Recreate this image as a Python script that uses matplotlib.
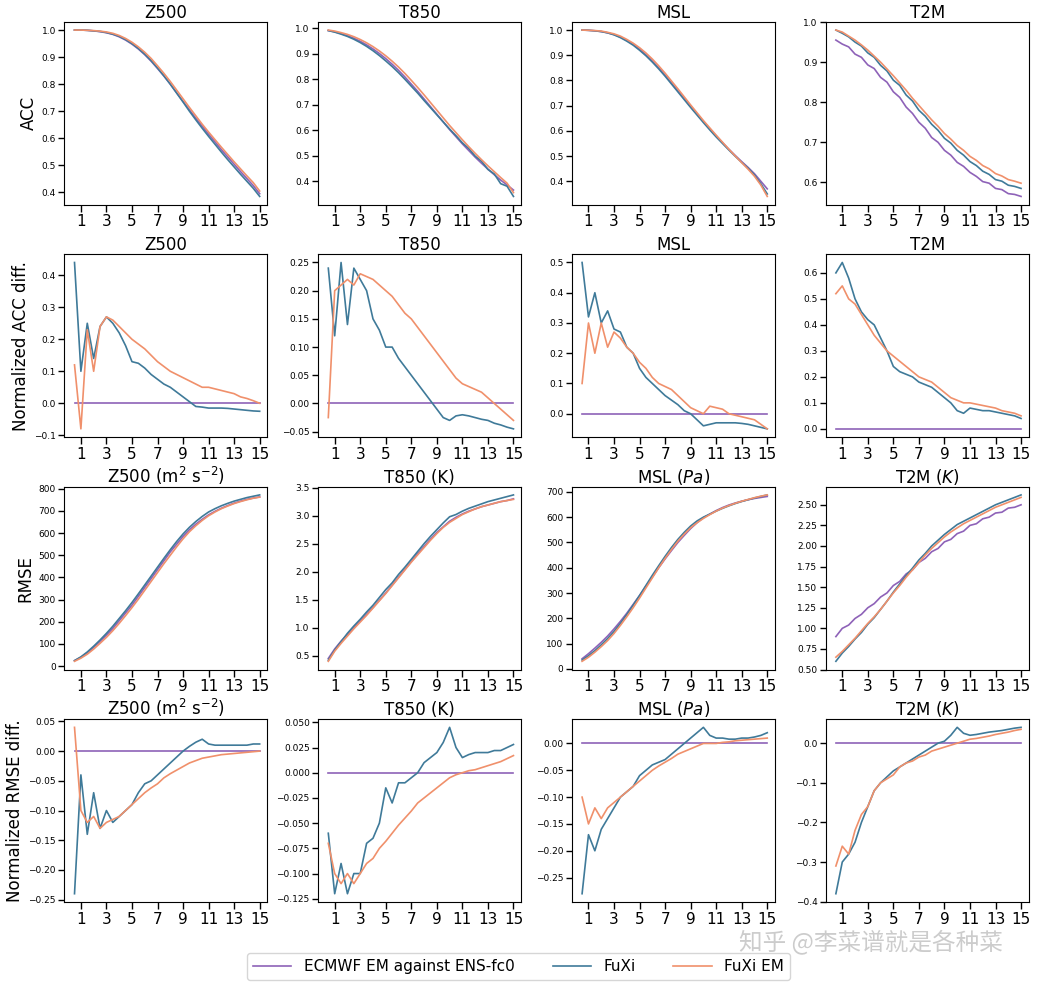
import matplotlib.pyplot as plt
import numpy as np

# lead time in days (12-hourly sampling)
LEAD_DAYS = np.arange(1, 31) / 2

VARIABLES = ["Z500", "T850", "MSL", "T2M"]
UNIT_TITLES = ["Z500 (m$^2$ s$^{-2}$)", "T850 (K)", "MSL ($Pa$)", "T2M ($K$)"]
ROW_LABELS = ["ACC", "Normalized ACC diff.", "RMSE", "Normalized RMSE diff."]
SERIES_NAMES = ["ECMWF EM against ENS-fc0", "FuXi", "FuXi EM"]
COLORS = ["#8e62b8", "#3f7a99", "#f0906b"]
ZERO = [0.0] * 30

# ACC
ACC_Z500 = [
    [1.0, 1.0, 0.999, 0.997, 0.994, 0.99, 0.984, 0.975, 0.963, 0.948, 0.93, 0.909, 0.885, 0.858, 0.83,
     0.80, 0.768, 0.736, 0.705, 0.674, 0.645, 0.615, 0.587, 0.558, 0.531, 0.504, 0.477, 0.451, 0.425, 0.395],
    [1.0, 1.0, 0.999, 0.997, 0.995, 0.991, 0.985, 0.977, 0.965, 0.95, 0.932, 0.911, 0.887, 0.86, 0.831,
     0.80, 0.767, 0.734, 0.70, 0.668, 0.637, 0.607, 0.578, 0.549, 0.521, 0.494, 0.467, 0.441, 0.415, 0.385],
    [1.0, 1.0, 0.999, 0.998, 0.996, 0.993, 0.988, 0.98, 0.969, 0.955, 0.938, 0.918, 0.895, 0.868, 0.84,
     0.81, 0.778, 0.746, 0.714, 0.683, 0.652, 0.623, 0.595, 0.567, 0.54, 0.513, 0.487, 0.461, 0.436, 0.405],
]
ACC_T850 = [
    [0.99, 0.985, 0.978, 0.97, 0.96, 0.948, 0.934, 0.918, 0.90, 0.88, 0.858, 0.834, 0.808, 0.78, 0.752,
     0.722, 0.692, 0.662, 0.632, 0.602, 0.574, 0.546, 0.52, 0.494, 0.47, 0.447, 0.425, 0.404, 0.385, 0.365],
    [0.99, 0.984, 0.976, 0.967, 0.956, 0.943, 0.928, 0.911, 0.892, 0.871, 0.849, 0.825, 0.799, 0.772, 0.745,
     0.716, 0.688, 0.66, 0.632, 0.604, 0.578, 0.55, 0.528, 0.498, 0.478, 0.446, 0.428, 0.39, 0.38, 0.34],
    [0.992, 0.988, 0.982, 0.975, 0.966, 0.955, 0.942, 0.927, 0.91, 0.891, 0.87, 0.847, 0.822, 0.795, 0.767,
     0.738, 0.708, 0.678, 0.648, 0.618, 0.59, 0.562, 0.535, 0.509, 0.484, 0.46, 0.437, 0.414, 0.392, 0.355],
]
ACC_MSL = [
    [1.0, 0.999, 0.997, 0.994, 0.989, 0.982, 0.972, 0.959, 0.943, 0.924, 0.902, 0.877, 0.85, 0.821, 0.79,
     0.759, 0.728, 0.697, 0.667, 0.637, 0.608, 0.58, 0.553, 0.527, 0.502, 0.478, 0.455, 0.43, 0.40, 0.37],
    [1.0, 0.999, 0.997, 0.994, 0.989, 0.981, 0.97, 0.956, 0.94, 0.92, 0.898, 0.873, 0.846, 0.817, 0.786,
     0.755, 0.724, 0.693, 0.663, 0.633, 0.604, 0.576, 0.55, 0.524, 0.499, 0.475, 0.452, 0.425, 0.39, 0.35],
    [1.0, 0.999, 0.998, 0.996, 0.991, 0.985, 0.976, 0.963, 0.948, 0.93, 0.909, 0.885, 0.858, 0.829, 0.798,
     0.767, 0.735, 0.703, 0.672, 0.641, 0.612, 0.583, 0.555, 0.527, 0.5, 0.474, 0.448, 0.42, 0.385, 0.34],
]
ACC_T2M = [
    [0.955, 0.945, 0.938, 0.92, 0.912, 0.893, 0.884, 0.862, 0.85, 0.826, 0.812, 0.788, 0.772, 0.75, 0.735,
     0.712, 0.70, 0.68, 0.668, 0.65, 0.64, 0.625, 0.615, 0.602, 0.598, 0.585, 0.582, 0.572, 0.57, 0.565],
    [0.98, 0.972, 0.963, 0.95, 0.94, 0.923, 0.912, 0.892, 0.878, 0.855, 0.842, 0.818, 0.803, 0.78, 0.765,
     0.745, 0.73, 0.71, 0.698, 0.68, 0.668, 0.652, 0.642, 0.628, 0.62, 0.607, 0.603, 0.593, 0.59, 0.585],
    [0.98, 0.975, 0.965, 0.955, 0.943, 0.93, 0.915, 0.90, 0.883, 0.866, 0.848, 0.83, 0.81, 0.792, 0.774,
     0.756, 0.74, 0.722, 0.708, 0.692, 0.68, 0.665, 0.655, 0.642, 0.634, 0.622, 0.616, 0.607, 0.603, 0.598],
]

# normalized ACC difference
DACC_Z500 = [
    ZERO,
    [0.44, 0.1, 0.25, 0.14, 0.24, 0.27, 0.25, 0.22, 0.18, 0.13, 0.125, 0.11, 0.09, 0.075, 0.06,
     0.05, 0.035, 0.02, 0.005, -0.01, -0.012, -0.015, -0.015, -0.015, -0.016, -0.018, -0.02, -0.022, -0.024, -0.025],
    [0.12, -0.08, 0.23, 0.1, 0.24, 0.27, 0.26, 0.24, 0.22, 0.2, 0.185, 0.17, 0.15, 0.13, 0.115,
     0.1, 0.09, 0.08, 0.07, 0.06, 0.05, 0.05, 0.045, 0.04, 0.035, 0.03, 0.02, 0.015, 0.008, 0.0],
]
DACC_T850 = [
    ZERO,
    [0.24, 0.12, 0.25, 0.14, 0.24, 0.22, 0.2, 0.15, 0.13, 0.1, 0.1, 0.08, 0.065, 0.05, 0.035,
     0.02, 0.005, -0.01, -0.025, -0.03, -0.022, -0.02, -0.022, -0.025, -0.028, -0.03, -0.035, -0.038, -0.042, -0.045],
    [-0.025, 0.2, 0.21, 0.22, 0.21, 0.23, 0.225, 0.22, 0.21, 0.2, 0.19, 0.175, 0.16, 0.15, 0.135,
     0.12, 0.105, 0.09, 0.075, 0.06, 0.045, 0.035, 0.03, 0.025, 0.02, 0.01, 0.0, -0.01, -0.02, -0.03],
]
DACC_MSL = [
    ZERO,
    [0.5, 0.32, 0.4, 0.3, 0.34, 0.28, 0.27, 0.22, 0.2, 0.15, 0.12, 0.1, 0.08, 0.06, 0.045,
     0.03, 0.01, 0.0, -0.02, -0.04, -0.035, -0.03, -0.03, -0.03, -0.03, -0.032, -0.035, -0.04, -0.045, -0.05],
    [0.1, 0.3, 0.2, 0.3, 0.22, 0.27, 0.25, 0.22, 0.2, 0.17, 0.15, 0.12, 0.1, 0.09, 0.08,
     0.06, 0.04, 0.02, 0.01, 0.0, 0.025, 0.02, 0.015, 0.0, -0.005, -0.01, -0.015, -0.02, -0.035, -0.05],
]
DACC_T2M = [
    ZERO,
    [0.6, 0.64, 0.58, 0.5, 0.45, 0.42, 0.4, 0.35, 0.3, 0.24, 0.22, 0.21, 0.2, 0.18, 0.17,
     0.16, 0.14, 0.12, 0.1, 0.07, 0.06, 0.08, 0.075, 0.07, 0.07, 0.065, 0.06, 0.055, 0.05, 0.04],
    [0.52, 0.55, 0.5, 0.48, 0.44, 0.4, 0.36, 0.33, 0.3, 0.28, 0.26, 0.24, 0.22, 0.2, 0.19,
     0.18, 0.16, 0.14, 0.12, 0.11, 0.1, 0.1, 0.095, 0.09, 0.085, 0.08, 0.07, 0.065, 0.06, 0.05],
]

# RMSE
RMSE_Z500 = [
    [25, 40, 60, 85, 112, 140, 170, 205, 240, 275, 315, 355, 395, 435, 475,
     515, 550, 585, 615, 640, 662, 682, 698, 712, 724, 735, 744, 752, 758, 763],
    [25, 42, 64, 90, 118, 148, 180, 215, 250, 287, 326, 366, 406, 446, 486,
     525, 562, 596, 626, 652, 675, 695, 710, 723, 734, 744, 752, 760, 766, 772],
    [22, 36, 54, 77, 103, 130, 160, 193, 228, 264, 302, 342, 382, 422, 462,
     500, 538, 574, 606, 633, 657, 678, 695, 710, 722, 733, 742, 750, 757, 762],
]
RMSE_T850 = [
    [0.45, 0.62, 0.76, 0.88, 1.0, 1.12, 1.24, 1.36, 1.49, 1.62, 1.76, 1.9, 2.04, 2.18, 2.32,
     2.45, 2.58, 2.7, 2.8, 2.9, 2.97, 3.03, 3.08, 3.12, 3.16, 3.19, 3.22, 3.25, 3.27, 3.3],
    [0.42, 0.6, 0.75, 0.9, 1.03, 1.15, 1.28, 1.4, 1.54, 1.68, 1.8, 1.95, 2.08, 2.22, 2.36,
     2.5, 2.63, 2.75, 2.87, 2.98, 3.02, 3.08, 3.13, 3.17, 3.21, 3.25, 3.28, 3.31, 3.34, 3.37],
    [0.4, 0.58, 0.72, 0.85, 0.98, 1.1, 1.22, 1.35, 1.48, 1.61, 1.75, 1.89, 2.03, 2.17, 2.3,
     2.43, 2.56, 2.68, 2.79, 2.88, 2.95, 3.02, 3.07, 3.12, 3.16, 3.19, 3.22, 3.25, 3.27, 3.29],
]
RMSE_MSL = [
    [40, 60, 82, 105, 130, 158, 188, 220, 255, 290, 327, 363, 400, 435, 468,
     500, 528, 555, 578, 598, 612, 626, 638, 648, 656, 663, 669, 674, 678, 682],
    [35, 52, 72, 95, 120, 148, 180, 215, 252, 290, 330, 370, 408, 445, 480,
     512, 540, 565, 585, 600, 612, 624, 635, 645, 654, 662, 669, 676, 682, 688],
    [30, 46, 66, 88, 112, 140, 172, 206, 242, 280, 320, 360, 400, 437, 472,
     505, 533, 558, 578, 595, 610, 624, 636, 646, 655, 663, 670, 677, 683, 688],
]
RMSE_T2M = [
    [0.9, 1.0, 1.04, 1.12, 1.17, 1.25, 1.3, 1.38, 1.43, 1.52, 1.57, 1.66, 1.71, 1.8, 1.85,
     1.93, 1.97, 2.05, 2.08, 2.15, 2.18, 2.25, 2.27, 2.33, 2.35, 2.4, 2.41, 2.46, 2.47, 2.5],
    [0.6, 0.7, 0.78, 0.87, 0.95, 1.05, 1.13, 1.23, 1.33, 1.44, 1.54, 1.64, 1.73, 1.83, 1.91,
     2.0, 2.07, 2.14, 2.2, 2.26, 2.3, 2.34, 2.38, 2.42, 2.46, 2.5, 2.53, 2.56, 2.59, 2.62],
    [0.65, 0.72, 0.8, 0.88, 0.97, 1.06, 1.14, 1.23, 1.33, 1.43, 1.52, 1.62, 1.71, 1.8, 1.89,
     1.97, 2.04, 2.11, 2.17, 2.22, 2.27, 2.31, 2.35, 2.39, 2.43, 2.47, 2.5, 2.53, 2.56, 2.59],
]

# normalized RMSE difference
DRMSE_Z500 = [
    ZERO,
    [-0.24, -0.04, -0.14, -0.07, -0.13, -0.1, -0.12, -0.11, -0.1, -0.09, -0.07, -0.055, -0.05, -0.04, -0.03,
     -0.02, -0.01, 0.0, 0.008, 0.015, 0.02, 0.012, 0.01, 0.01, 0.01, 0.01, 0.01, 0.01, 0.012, 0.012],
    [0.04, -0.1, -0.12, -0.11, -0.13, -0.12, -0.115, -0.11, -0.1, -0.09, -0.08, -0.07, -0.062, -0.055, -0.045,
     -0.038, -0.032, -0.026, -0.02, -0.016, -0.012, -0.01, -0.008, -0.006, -0.005, -0.004, -0.003, -0.002, -0.001, 0.0],
]
DRMSE_T850 = [
    ZERO,
    [-0.06, -0.12, -0.09, -0.12, -0.1, -0.1, -0.07, -0.065, -0.05, -0.015, -0.03, -0.01, -0.01, -0.005, 0.0,
     0.01, 0.015, 0.02, 0.03, 0.045, 0.025, 0.015, 0.018, 0.02, 0.02, 0.02, 0.022, 0.022, 0.025, 0.028],
    [-0.07, -0.1, -0.11, -0.1, -0.11, -0.1, -0.09, -0.085, -0.075, -0.068, -0.06, -0.052, -0.045, -0.038, -0.03,
     -0.025, -0.02, -0.015, -0.01, -0.005, -0.002, 0.0, 0.002, 0.003, 0.005, 0.007, 0.009, 0.011, 0.014, 0.017],
]
DRMSE_MSL = [
    ZERO,
    [-0.28, -0.17, -0.2, -0.16, -0.14, -0.12, -0.1, -0.09, -0.08, -0.06, -0.05, -0.04, -0.035, -0.03, -0.02,
     -0.01, 0.0, 0.01, 0.02, 0.03, 0.015, 0.01, 0.01, 0.008, 0.008, 0.01, 0.01, 0.012, 0.015, 0.02],
    [-0.1, -0.15, -0.12, -0.14, -0.12, -0.11, -0.1, -0.09, -0.08, -0.07, -0.06, -0.05, -0.042, -0.035, -0.028,
     -0.02, -0.015, -0.01, -0.005, 0.0, 0.0, 0.0, 0.002, 0.003, 0.005, 0.006, 0.007, 0.008, 0.009, 0.01],
]
DRMSE_T2M = [
    ZERO,
    [-0.38, -0.3, -0.28, -0.25, -0.2, -0.16, -0.12, -0.1, -0.085, -0.07, -0.06, -0.05, -0.04, -0.03, -0.02,
     -0.01, 0.0, 0.005, 0.02, 0.04, 0.025, 0.02, 0.022, 0.025, 0.028, 0.03, 0.032, 0.035, 0.038, 0.04],
    [-0.31, -0.26, -0.28, -0.22, -0.18, -0.16, -0.12, -0.1, -0.09, -0.08, -0.06, -0.05, -0.045, -0.035, -0.03,
     -0.02, -0.015, -0.01, -0.005, 0.0, 0.005, 0.01, 0.012, 0.015, 0.018, 0.022, 0.025, 0.028, 0.032, 0.035],
]

GRID = [
    [ACC_Z500, ACC_T850, ACC_MSL, ACC_T2M],
    [DACC_Z500, DACC_T850, DACC_MSL, DACC_T2M],
    [RMSE_Z500, RMSE_T850, RMSE_MSL, RMSE_T2M],
    [DRMSE_Z500, DRMSE_T850, DRMSE_MSL, DRMSE_T2M],
]


def main():
    fig, axes = plt.subplots(4, 4, figsize=(10.37, 9.88), dpi=100)
    fig.subplots_adjust(left=0.062, right=0.992, top=0.978, bottom=0.087,
                        wspace=0.25, hspace=0.27)

    for row in range(4):
        for col in range(4):
            ax = axes[row, col]
            for series, name, color in zip(GRID[row][col], SERIES_NAMES, COLORS):
                ax.plot(LEAD_DAYS, series, color=color, linewidth=1.2, label=name)
            title = VARIABLES[col] if row < 2 else UNIT_TITLES[col]
            ax.set_title(title, fontsize=12, pad=2)
            ax.set_xticks(range(1, 16, 2))
            ax.set_xlim(-0.3, 15.6)
            ax.tick_params(axis="x", labelsize=11, length=5, width=1, pad=2)
            ax.tick_params(axis="y", labelsize=6.5, length=4, width=1, pad=2)
            if col == 0:
                ax.set_ylabel(ROW_LABELS[row], fontsize=12, labelpad=3)

    handles, labels = axes[0, 0].get_legend_handles_labels()
    fig.legend(handles, labels, loc="lower center", bbox_to_anchor=(0.5, 0.0),
               ncol=3, fontsize=11, frameon=True, handlelength=2.5, columnspacing=2.5)

    fig.text(0.84, 0.047, "知乎 @李菜谱就是各种菜", fontsize=17, color="#cccccc",
             ha="center", va="center", family=["Noto Sans CJK SC", "DejaVu Sans"])

    fig.savefig("out.png", dpi=100)
    plt.close(fig)


if __name__ == "__main__":
    main()
